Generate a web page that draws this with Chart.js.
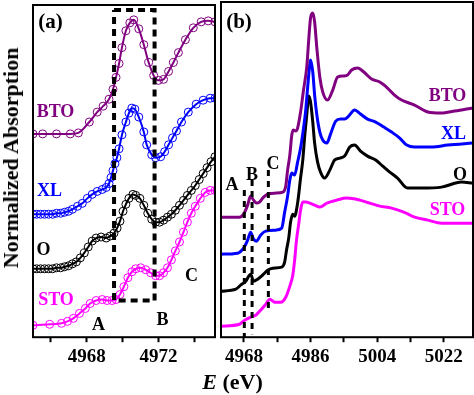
<!DOCTYPE html>
<html>
<head>
<meta charset="utf-8">
<script src="https://cdn.jsdelivr.net/npm/chart.js@4.4.1/dist/chart.umd.min.js"></script>
<style>
  body { margin: 0; background: #fff; }
  #fig { position: relative; width: 474px; height: 395px; overflow: hidden;
         font-family: 'Liberation Serif', 'Times New Roman', serif; font-weight: bold; }
  canvas { position: absolute; top: 0; }
  #chartA { left: 0; }
  #chartB { left: 218px; }
  .lbl { position: absolute; transform: translate(-50%, -50%); font-size: 18px;
         line-height: 1; white-space: nowrap; }
</style>
</head>
<body>
<div id="fig">
  <canvas id="chartA" width="220" height="371"></canvas>
  <canvas id="chartB" width="256" height="371"></canvas>

  <div class="lbl" style="left:10.5px;top:158px;font-size:22px;transform:translate(-50%,-50%) rotate(-90deg);">Normalized Absorption</div>
  <div class="lbl" style="left:232.5px;top:382px;font-size:22px;"><i>E</i> (eV)</div>

  <div class="lbl" style="left:50.5px;top:21px;font-size:21px;">(a)</div>
  <div class="lbl" style="left:239px;top:21px;font-size:21px;">(b)</div>

  <div class="lbl" style="left:55.5px;top:110.5px;color:#800080;">BTO</div>
  <div class="lbl" style="left:49.5px;top:189.5px;color:#0000ff;">XL</div>
  <div class="lbl" style="left:43.5px;top:248.5px;color:#000;">O</div>
  <div class="lbl" style="left:56px;top:298.5px;color:#ff00ff;">STO</div>
  <div class="lbl" style="left:98.5px;top:323.5px;">A</div>
  <div class="lbl" style="left:162.5px;top:318.5px;">B</div>
  <div class="lbl" style="left:191.5px;top:275px;">C</div>

  <div class="lbl" style="left:447.5px;top:95px;color:#800080;">BTO</div>
  <div class="lbl" style="left:453.5px;top:132.5px;color:#0000ff;">XL</div>
  <div class="lbl" style="left:460px;top:173.5px;color:#000;">O</div>
  <div class="lbl" style="left:447.5px;top:208.5px;color:#ff00ff;">STO</div>
  <div class="lbl" style="left:232px;top:184px;">A</div>
  <div class="lbl" style="left:252px;top:174px;">B</div>
  <div class="lbl" style="left:273px;top:162.5px;">C</div>
</div>

<script>
// panel (a): pre-edge region, energies in eV, stacked intensities (offset per sample)
const aBtoE = [4965.0, 4965.54, 4966.31, 4967.08, 4967.53, 4968.14, 4968.58, 4968.91, 4969.24, 4969.46,
  4969.63, 4969.80, 4969.96, 4970.18, 4970.40, 4970.62, 4970.90, 4971.18, 4971.45, 4971.73,
  4972.00, 4972.28, 4972.56, 4972.83, 4973.11, 4973.50, 4973.94, 4974.38, 4974.77, 4975.15];
const aBtoY = [2.05, 2.05, 2.05, 2.05, 2.06, 2.17, 2.27, 2.33, 2.40, 2.50,
  2.62, 2.76, 2.92, 3.09, 3.17, 3.20, 3.11, 2.95, 2.77, 2.64,
  2.59, 2.60, 2.68, 2.77, 2.87, 3.00, 3.12, 3.18, 3.19, 3.18];

const aXlE = [4965.0, 4965.21, 4965.43, 4965.65, 4965.87, 4966.10, 4966.31, 4966.54, 4966.76, 4966.98,
  4967.20, 4967.48, 4967.75, 4968.03, 4968.30, 4968.58, 4968.86, 4969.08, 4969.24, 4969.35,
  4969.46, 4969.57, 4969.68, 4969.80, 4969.96, 4970.18, 4970.35, 4970.51, 4970.68, 4970.90,
  4971.18, 4971.34, 4971.62, 4971.84, 4972.12, 4972.34, 4972.56, 4972.78, 4973.00, 4973.28,
  4973.66, 4974.10, 4974.49, 4974.88, 4975.15];
const aXlY = [1.24, 1.24, 1.24, 1.24, 1.24, 1.24, 1.25, 1.25, 1.26, 1.27,
  1.29, 1.32, 1.35, 1.40, 1.44, 1.47, 1.49, 1.51, 1.55, 1.61,
  1.68, 1.75, 1.81, 1.90, 2.04, 2.17, 2.26, 2.31, 2.30, 2.22,
  2.07, 1.94, 1.84, 1.81, 1.82, 1.87, 1.94, 2.01, 2.08, 2.17,
  2.27, 2.35, 2.39, 2.41, 2.41];

const aOE = [4965.0, 4965.21, 4965.43, 4965.65, 4965.87, 4966.09, 4966.31, 4966.54, 4966.76, 4966.98,
  4967.20, 4967.42, 4967.64, 4967.86, 4968.08, 4968.30, 4968.52, 4968.80, 4969.08, 4969.30,
  4969.52, 4969.69, 4969.85, 4970.02, 4970.18, 4970.35, 4970.57, 4970.73, 4970.96, 4971.18,
  4971.40, 4971.62, 4971.84, 4972.06, 4972.28, 4972.50, 4972.72, 4972.94, 4973.17, 4973.39,
  4973.61, 4973.83, 4974.05, 4974.27, 4974.49, 4974.71, 4974.93, 4975.15];
const aOY = [0.69, 0.69, 0.69, 0.69, 0.69, 0.69, 0.70, 0.70, 0.71, 0.72,
  0.74, 0.76, 0.80, 0.85, 0.91, 0.97, 1.00, 1.01, 1.00, 1.02,
  1.05, 1.10, 1.17, 1.27, 1.34, 1.40, 1.44, 1.43, 1.40, 1.33,
  1.25, 1.19, 1.16, 1.16, 1.18, 1.21, 1.24, 1.28, 1.33, 1.38,
  1.43, 1.48, 1.53, 1.59, 1.65, 1.71, 1.77, 1.82];

const aStoE = [4965.0, 4965.93, 4966.59, 4966.92, 4967.25, 4967.59, 4967.92, 4968.19, 4968.52, 4968.86,
  4969.13, 4969.41, 4969.63, 4969.85, 4970.07, 4970.29, 4970.52, 4970.73, 4971.01, 4971.29,
  4971.56, 4971.84, 4972.06, 4972.28, 4972.50, 4972.72, 4972.94, 4973.17, 4973.39, 4973.61,
  4973.83, 4974.05, 4974.33, 4974.60, 4974.88, 4975.15];
const aStoY = [0.12, 0.13, 0.14, 0.16, 0.19, 0.24, 0.29, 0.34, 0.37, 0.38,
  0.37, 0.37, 0.38, 0.43, 0.51, 0.60, 0.66, 0.69, 0.70, 0.68,
  0.65, 0.62, 0.62, 0.65, 0.70, 0.78, 0.87, 0.96, 1.06, 1.16,
  1.25, 1.32, 1.40, 1.46, 1.48, 1.48];

// dashed box marking the A/B region in (a)
const aBoxE = [4969.52, 4971.78, 4971.78, 4969.52, 4969.52];
const aBoxY = [3.30, 3.30, 0.37, 0.37, 3.30];

// panel (b): full edge
const bBtoE = [4961.7, 4966.8, 4967.9, 4969.0, 4969.8, 4970.6, 4971.4, 4972.2, 4973.3, 4974.4,
  4976.6, 4978.5, 4979.3, 4979.8, 4980.4, 4980.9, 4981.3, 4982.0, 4982.5, 4983.3,
  4984.1, 4985.0, 4985.5, 4986.0, 4986.6, 4987.1, 4987.7, 4988.5, 4989.3, 4990.6,
  4992.0, 4993.3, 4995.0, 4996.0, 4997.1, 4998.7, 5000.4, 5002.5, 5004.7, 5006.8,
  5008.7, 5010.6, 5014.1, 5017.7, 5021.2, 5025.0, 5029.8];
const bBtoY = [1.20, 1.20, 1.23, 1.32, 1.41, 1.37, 1.34, 1.35, 1.40, 1.43,
  1.44, 1.45, 1.51, 1.67, 1.82, 2.01, 2.07, 2.06, 2.09, 2.25,
  2.47, 2.71, 2.97, 3.19, 3.24, 3.15, 2.89, 2.60, 2.45, 2.37,
  2.47, 2.60, 2.61, 2.62, 2.67, 2.69, 2.65, 2.58, 2.55, 2.49,
  2.42, 2.37, 2.32, 2.25, 2.24, 2.26, 2.29];

const bXlE = [4961.7, 4966.3, 4967.9, 4969.0, 4969.8, 4970.6, 4971.4, 4972.5, 4973.9, 4976.6,
  4978.2, 4979.0, 4979.8, 4980.4, 4980.9, 4981.7, 4982.5, 4983.3, 4984.1, 4984.7,
  4985.2, 4985.8, 4986.0, 4986.6, 4987.1, 4987.7, 4988.5, 4989.3, 4990.4, 4991.4,
  4992.8, 4994.1, 4995.2, 4996.3, 4997.9, 4999.5, 5001.4, 5003.6, 5005.8, 5007.9,
  5010.1, 5012.0, 5014.1, 5018.7, 5023.1, 5029.8];
const bXlY = [0.83, 0.84, 0.89, 0.97, 1.05, 0.98, 0.96, 1.02, 1.06, 1.07,
  1.09, 1.25, 1.41, 1.57, 1.64, 1.62, 1.75, 1.89, 2.09, 2.27,
  2.49, 2.73, 2.77, 2.65, 2.42, 2.22, 2.05, 1.97, 1.94, 2.03,
  2.16, 2.18, 2.18, 2.21, 2.27, 2.23, 2.18, 2.15, 2.10, 2.05,
  1.99, 1.92, 1.90, 1.90, 1.92, 1.94];

const bOE = [4961.7, 4965.8, 4967.1, 4968.5, 4969.8, 4970.6, 4971.7, 4973.3, 4974.4, 4975.8,
  4978.2, 4979.0, 4979.5, 4980.1, 4980.6, 4981.2, 4981.7, 4982.5, 4983.3, 4983.9,
  4984.4, 4985.0, 4985.5, 4986.0, 4986.6, 4987.1, 4987.9, 4988.7, 4989.8, 4991.2,
  4992.5, 4993.9, 4995.2, 4996.6, 4997.9, 4999.5, 5001.4, 5003.6, 5005.5, 5007.4,
  5009.5, 5012.2, 5016.0, 5021.4, 5026.8, 5029.8];
const bOY = [0.46, 0.48, 0.52, 0.56, 0.63, 0.56, 0.58, 0.63, 0.67, 0.69,
  0.70, 0.75, 0.87, 0.99, 1.15, 1.23, 1.21, 1.34, 1.59, 1.77,
  2.00, 2.23, 2.41, 2.35, 2.15, 1.94, 1.75, 1.65, 1.59, 1.67,
  1.77, 1.79, 1.81, 1.90, 1.92, 1.86, 1.81, 1.77, 1.71, 1.65,
  1.59, 1.49, 1.49, 1.50, 1.55, 1.54];

const bStoE = [4961.7, 4966.8, 4968.2, 4969.8, 4971.2, 4972.5, 4973.9, 4975.0, 4976.3, 4977.9,
  4979.3, 4980.4, 4981.2, 4981.7, 4982.2, 4982.8, 4983.3, 4983.9, 4984.7, 4985.8,
  4987.1, 4988.5, 4990.4, 4993.1, 4995.8, 4999.3, 5002.0, 5004.7, 5007.9, 5011.2,
  5014.1, 5017.7, 5021.4, 5029.8];
const bStoY = [0.11, 0.13, 0.17, 0.20, 0.22, 0.27, 0.33, 0.38, 0.35, 0.35,
  0.40, 0.51, 0.62, 0.77, 0.97, 1.13, 1.27, 1.35, 1.35, 1.34,
  1.32, 1.30, 1.34, 1.37, 1.39, 1.37, 1.34, 1.31, 1.29, 1.25,
  1.20, 1.17, 1.14, 1.14];

// vertical markers A, B, C in (b)
const bDashE = [4968.1, 4970.2, 4974.6];
const bDashTop = [1.47, 1.57, 1.67];
const bDashBottom = [0.0, 0.03, 0.27];

// axes
const aTicks = [4966, 4968, 4970, 4972, 4974];
const aTickLabels = [4968, 4972];
const bTicks = [4968, 4977, 4986, 4995, 5004, 5013, 5022];
const bTickLabels = [4968, 4986, 5004, 5022];

const PURPLE = '#800080';
const BLUE = '#0000ff';
const BLACK = '#000000';
const MAGENTA = '#ff00ff';

const pts = (xs, ys) => xs.map((x, i) => ({ x, y: ys[i] }));

// box around the plot area (the library only draws the bottom border)
const framePlugin = {
  id: 'frame',
  afterDraw(chart) {
    const { ctx, chartArea: a } = chart;
    ctx.save();
    ctx.strokeStyle = '#000';
    ctx.lineWidth = 2;
    ctx.strokeRect(a.left, a.top, a.right - a.left, a.bottom - a.top);
    ctx.restore();
  },
};

function xAxis(min, max, ticks, labels) {
  return {
    type: 'linear',
    min,
    max,
    afterBuildTicks: (scale) => {
      scale.ticks = ticks.map((v) => ({ value: v }));
    },
    ticks: {
      autoSkip: false,
      maxRotation: 0,
      padding: 3,
      color: '#000',
      font: { family: 'Liberation Serif', size: 19, weight: 'bold' },
      callback: (v) => (labels.includes(v) ? String(v) : ''),
    },
    grid: {
      drawOnChartArea: false,
      drawTicks: true,
      tickLength: 5,
      tickWidth: 2,
      tickColor: '#000',
    },
    border: { display: false },
  };
}

const yAxis = { display: false, min: 0, max: 3.35 };

function markedCurve(xs, ys, color) {
  return {
    data: pts(xs, ys),
    borderColor: color,
    borderWidth: 2,
    cubicInterpolationMode: 'monotone',
    pointRadius: 4,
    pointHoverRadius: 4,
    pointBorderWidth: 1,
    pointBorderColor: color,
    pointBackgroundColor: 'rgba(0,0,0,0)',
  };
}

function plainCurve(xs, ys, color) {
  return {
    data: pts(xs, ys),
    borderColor: color,
    borderWidth: 3,
    cubicInterpolationMode: 'monotone',
    pointRadius: 0,
  };
}

function dashed(data, width, dash) {
  return {
    data,
    borderColor: '#000',
    borderWidth: width,
    borderDash: dash,
    pointRadius: 0,
    tension: 0,
  };
}

const baseOptions = (x, padding) => ({
  responsive: false,
  animation: false,
  layout: { padding },
  plugins: { legend: { display: false }, tooltip: { enabled: false } },
  scales: { x, y: yAxis },
});

new Chart(document.getElementById('chartA'), {
  type: 'line',
  data: {
    datasets: [
      dashed(pts(aBoxE, aBoxY), 4, [7, 5]),
      markedCurve(aBtoE, aBtoY, PURPLE),
      markedCurve(aXlE, aXlY, BLUE),
      markedCurve(aOE, aOY, BLACK),
      markedCurve(aStoE, aStoY, MAGENTA),
    ],
  },
  options: baseOptions(xAxis(4965.0, 4975.15, aTicks, aTickLabels),
    { left: 33, right: 3, top: 2, bottom: 0 }),
  plugins: [framePlugin],
});

new Chart(document.getElementById('chartB'), {
  type: 'line',
  data: {
    datasets: [
      ...bDashE.map((e, i) => dashed(pts([e, e], [bDashTop[i], bDashBottom[i]]), 3, [6, 5])),
      plainCurve(bBtoE, bBtoY, PURPLE),
      plainCurve(bXlE, bXlY, BLUE),
      plainCurve(bOE, bOY, BLACK),
      plainCurve(bStoE, bStoY, MAGENTA),
    ],
  },
  options: baseOptions(xAxis(4961.8, 5029.9, bTicks, bTickLabels),
    { left: 3, right: 1, top: 2, bottom: 0 }),
  plugins: [framePlugin],
});
</script>
</body>
</html>
